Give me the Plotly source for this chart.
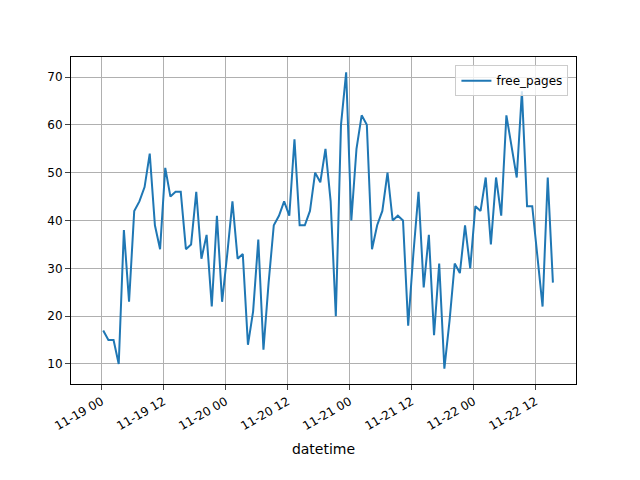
import plotly.graph_objects as go
import pandas as pd

free_pages = [17,15,15,10,38,23,42,44,47,54, 39,34,51,45,46,46,34,35,46,32,
              37,22,41,23,33,44,32,33,14,21, 36,13,27,39,41,44,41,57,39,39,
              42,50,48,55,44,20,60,71,40,55, 62,60,34,39,42,50,40,41,40,18,
              33,46,26,37,16,31,9,19,31,29, 39,30,43,42,49,35,49,41,62,55,
              49,67,43,43,32,22,49,27]
times = pd.date_range("2023-11-19 00:20", periods=len(free_pages), freq="h")
tick_vals = pd.date_range("2023-11-19 00:00", periods=8, freq="12h")
tick_text = [t.strftime("%m-%d %H") for t in tick_vals]

fig = go.Figure(go.Scatter(x=times, y=free_pages, mode="lines", name="free_pages",
                           line=dict(color="#1f77b4", width=2)))
fig.update_layout(
    width=640, height=480, paper_bgcolor="white", plot_bgcolor="white",
    margin=dict(l=63, r=72, t=49, b=104, autoexpand=False),
    font=dict(family="DejaVu Sans", size=12, color="black"),
    showlegend=True,
    legend=dict(x=0.985, y=0.975, xanchor="right", yanchor="top",
                bordercolor="#cccccc", borderwidth=1, bgcolor="rgba(255,255,255,0.8)"),
    xaxis=dict(range=[pd.Timestamp("2023-11-19 00:00") - pd.Timedelta(hours=5.9),
                      pd.Timestamp("2023-11-19 00:00") + pd.Timedelta(hours=91.8)],
               tickvals=tick_vals, ticktext=tick_text, tickangle=-30, automargin=False,
               showgrid=True, gridcolor="#b0b0b0", gridwidth=1,
               showline=True, linecolor="black", mirror=True, ticks="outside",
               title=dict(text="datetime", standoff=12)),
    yaxis=dict(range=[5.8, 74.2], tickvals=[10,20,30,40,50,60,70], automargin=False,
               showgrid=True, gridcolor="#b0b0b0", gridwidth=1,
               showline=True, linecolor="black", mirror=True, ticks="outside",
               zeroline=False),
)
fig.write_html("out.html")
